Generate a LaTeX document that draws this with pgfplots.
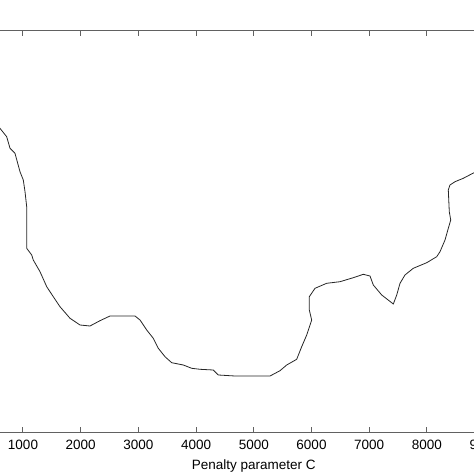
\documentclass[border=0pt]{standalone}
\usepackage{fontspec}
\setmainfont{Liberation Sans}
\usepackage{pgfplots}
\pgfplotsset{compat=1.18}
\begin{document}
\begin{tikzpicture}
\path[use as bounding box] (0pt,0pt) rectangle (474pt,474pt);
\clip (0pt,0pt) rectangle (474pt,474pt);
\begin{axis}[
  at={(-34.7pt,41.7pt)}, anchor=south west,
  scale only axis, width=577pt, height=401.3pt,
  xmin=0, xmax=10000, ymin=0, ymax=401.3,
  xtick={1000,2000,...,9000}, ytick=\empty,
  scaled x ticks=false,
  /pgf/number format/assume math mode=true,
  /pgf/number format/1000 sep={},
  tick align=inside, major tick length=5pt,
  xtick pos=both,
  axis line style={black!62, line width=1pt},
  every tick/.style={black!62, line width=1pt},
  xticklabel style={font=\fontsize{13.5}{16}\selectfont, yshift=-4pt},
  xlabel={Penalty parameter C},
  xlabel style={font=\fontsize{13.5}{16}\selectfont, at={(axis description cs:0.5,0)}, anchor=base, yshift=-37pt},
]
\addplot[black!85, line width=0.8pt] coordinates {
(549,307.3) (601,304) (717,295.6) (775,284) (861,279) (948,260.6) (1005,252.3)
(1035,240.6) (1064,225.6) (1064,192.3) (1064,184) (1151,177.3) (1178,172.3)
(1295,160.6) (1411,145.6) (1525,135.6) (1641,125.6) (1815,114) (1988,107.3)
(2161,106.3) (2334,111.6) (2508,116.3) (2941,116.3) (3028,112.3) (3144,102.3)
(3258,94) (3345,84) (3461,75.6) (3577,69.6) (3778,67.3) (3924,64) (4068,63)
(4298,62.3) (4385,57.3) (4674,56.3) (5281,56.3) (5454,61.6) (5570,67.3)
(5743,73) (5830,85.6) (5917,97.3) (6003,112.3) (5962,122.3) (5962,135.6)
(6061,144) (6263,149) (6494,150.6) (6724,154.6) (6898,158) (7014,156.3)
(7071,147.3) (7217,137.3) (7418,128.3) (7477,137.3) (7534,149) (7620,157.3)
(7764,164) (7997,169.6) (8170,175.6) (8227,180.6) (8314,192.3) (8371,204)
(8413,212.3) (8388,220.6) (8371,242.3) (8400,247.3) (8487,250.6) (8631,254)
(8816,259.6) (8868,260.3)
};
\end{axis}
\end{tikzpicture}
\end{document}
